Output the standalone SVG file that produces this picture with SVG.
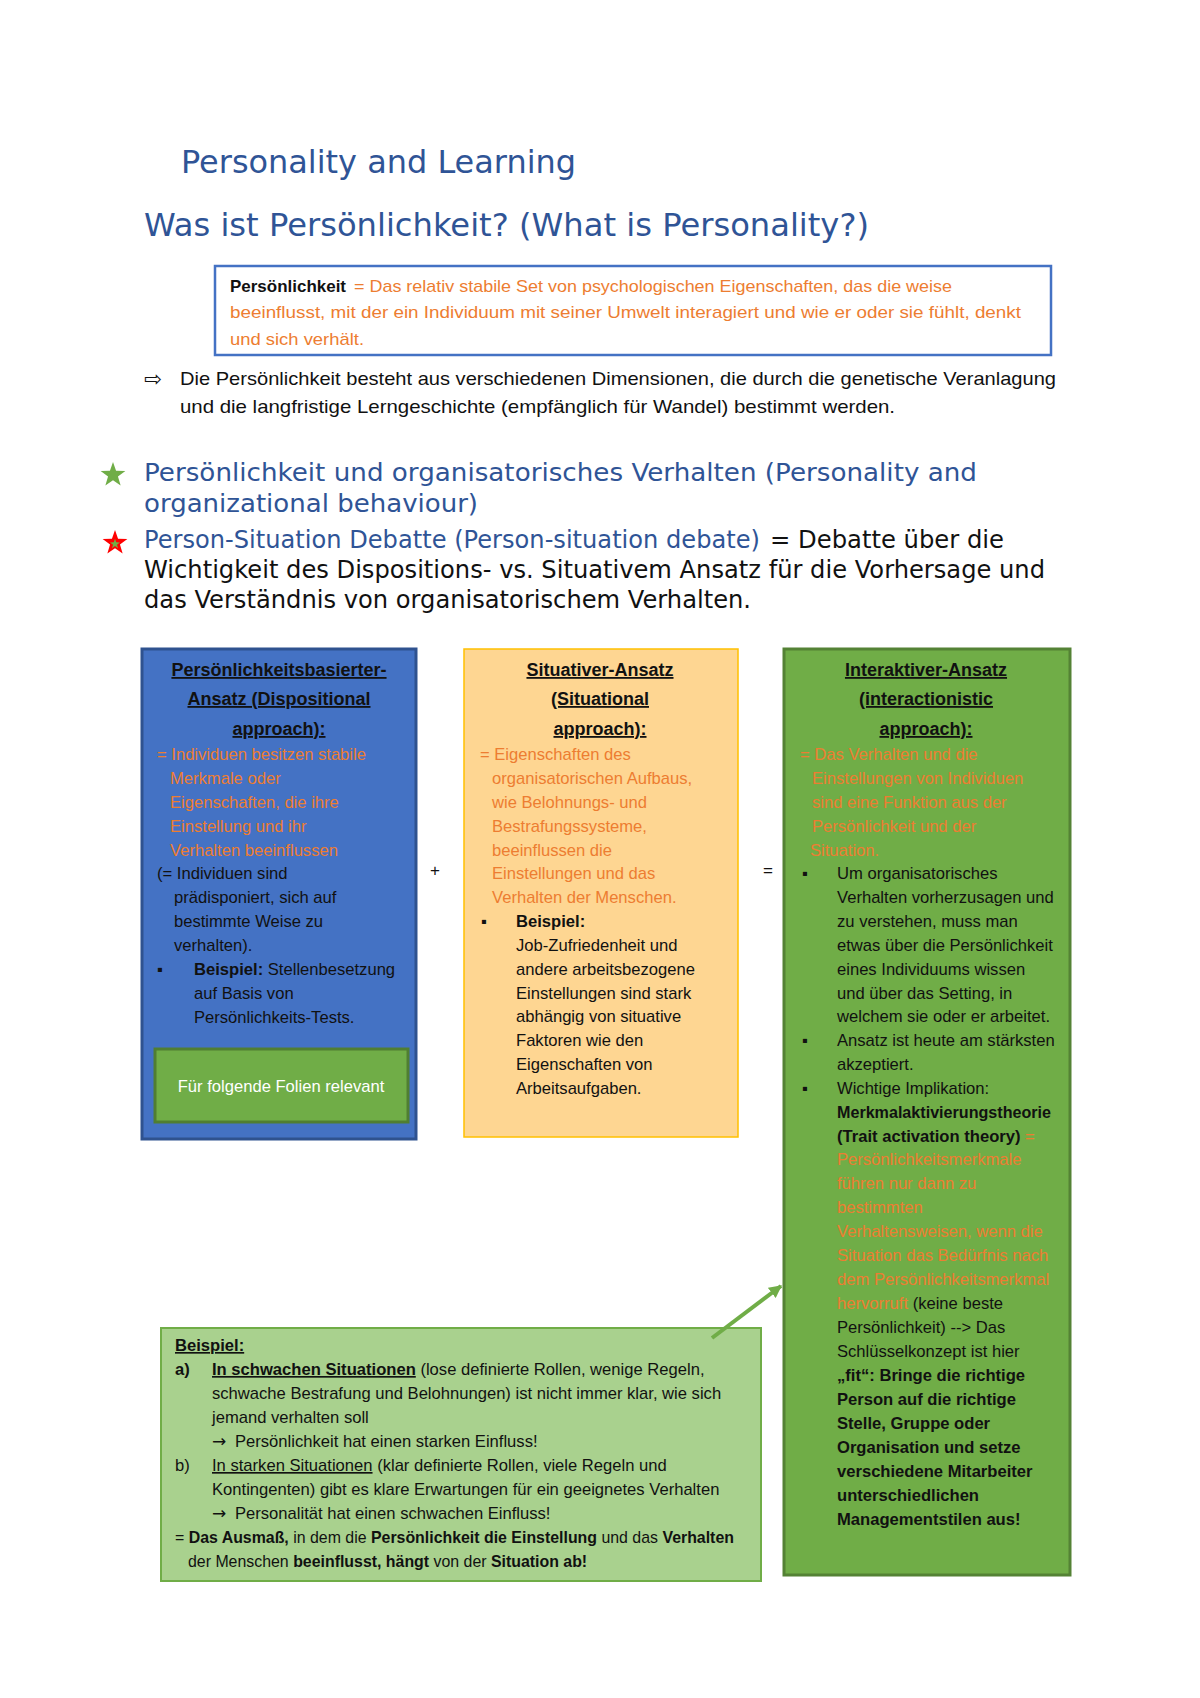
<svg xmlns="http://www.w3.org/2000/svg" xmlns:xlink="http://www.w3.org/1999/xlink" width="1200" height="1698" viewBox="0 0 1200 1698">
<style>
  .dv { font-family: "DejaVu Sans", Verdana, sans-serif; }
  .ls { font-family: "Liberation Sans", Arial, sans-serif; }
  .blue { fill: #2F5496; }
  .or { fill: #ED7D31; }
  .bk { fill: #111111; }
  .wh { fill: #FFFFFF; }
  .t { font-family: "Liberation Sans", Arial, sans-serif; font-size: 16.6px; }
  .sm { font-size: 15.9px; }
  .hd { font-family: "Liberation Sans", Arial, sans-serif; font-size: 18px; font-weight: bold; text-decoration: underline; fill: #111111; }
  .bold { font-weight: bold; }
  .ul { text-decoration: underline; }
  .ar { font-family: "DejaVu Sans", sans-serif; font-size: 17px; }
</style>
<defs>
  <path id="star" d="M0,-13 L3.06,-4.21 L12.36,-4.02 L4.95,1.61 L7.64,10.52 L0,5.2 L-7.64,10.52 L-4.95,1.61 L-12.36,-4.02 L-3.06,-4.21 Z"/>
  <marker id="arr" viewBox="0 0 10 10" refX="9" refY="5" markerWidth="3.2" markerHeight="3.2" orient="auto" markerUnits="strokeWidth">
    <path d="M0,0 L10,5 L0,10 Z" fill="#70AD47"/>
  </marker>
</defs>
<rect width="1200" height="1698" fill="#FFFFFF"/>

<g id="titles">
  <text class="dv blue" x="181" y="173" font-size="32" textLength="395" lengthAdjust="spacingAndGlyphs">Personality and Learning</text>
  <text class="dv blue" x="144" y="236" font-size="32" textLength="725" lengthAdjust="spacingAndGlyphs">Was ist Persönlichkeit? (What is Personality?)</text>
</g>

<g id="definition">
  <rect x="215" y="266" width="836" height="89" fill="#FFFFFF" stroke="#4472C4" stroke-width="2.5"/>
  <text class="ls bk bold" x="230" y="292" font-size="17" textLength="116" lengthAdjust="spacingAndGlyphs">Persönlichkeit</text>
  <text class="ls or" x="354" y="292" font-size="17" textLength="598" lengthAdjust="spacingAndGlyphs">= Das relativ stabile Set von psychologischen Eigenschaften, das die weise</text>
  <text class="ls or" x="230" y="318" font-size="17" textLength="791" lengthAdjust="spacingAndGlyphs">beeinflusst, mit der ein Individuum mit seiner Umwelt interagiert und wie er oder sie fühlt, denkt</text>
  <text class="ls or" x="230" y="345" font-size="17" textLength="134" lengthAdjust="spacingAndGlyphs">und sich verhält.</text>
</g>

<g id="paragraph">
  <text class="dv bk" x="144" y="386" font-size="21">⇨</text>
  <text class="ls bk" x="180" y="385" font-size="18.5" textLength="876" lengthAdjust="spacingAndGlyphs">Die Persönlichkeit besteht aus verschiedenen Dimensionen, die durch die genetische Veranlagung</text>
  <text class="ls bk" x="180" y="413" font-size="18.5" textLength="715" lengthAdjust="spacingAndGlyphs">und die langfristige Lerngeschichte (empfänglich für Wandel) bestimmt werden.</text>
</g>

<g id="heading-ob">
  <use xlink:href="#star" href="#star" transform="translate(113,475)" fill="#70AD47"/>
  <text class="dv blue" x="144" y="481" font-size="25" textLength="833" lengthAdjust="spacingAndGlyphs">Persönlichkeit und organisatorisches Verhalten (Personality and</text>
  <text class="dv blue" x="144" y="512" font-size="25" textLength="334" lengthAdjust="spacingAndGlyphs">organizational behaviour)</text>
</g>

<g id="heading-debate">
  <use xlink:href="#star" href="#star" transform="translate(115,543)" fill="#FF0000"/>
  <use xlink:href="#star" href="#star" transform="translate(115,544) scale(0.4)" fill="#70AD47"/>
  <text class="dv blue" x="144" y="548" font-size="25" textLength="616" lengthAdjust="spacingAndGlyphs">Person-Situation Debatte (Person-situation debate)</text>
  <text class="dv bk" x="770" y="548" font-size="25" textLength="234" lengthAdjust="spacingAndGlyphs">= Debatte über die</text>
  <text class="dv bk" x="144" y="578" font-size="25" textLength="901" lengthAdjust="spacingAndGlyphs">Wichtigkeit des Dispositions- vs. Situativem Ansatz für die Vorhersage und</text>
  <text class="dv bk" x="144" y="608" font-size="25" textLength="607" lengthAdjust="spacingAndGlyphs">das Verständnis von organisatorischem Verhalten.</text>
</g>

<g id="dispositional">
  <rect x="142" y="649" width="274" height="490" fill="#4472C4" stroke="#2F528F" stroke-width="3"/>
  <text class="hd" x="279" y="676" text-anchor="middle">Persönlichkeitsbasierter-</text>
  <text class="hd" x="279" y="705" text-anchor="middle">Ansatz (Dispositional</text>
  <text class="hd" x="279" y="735" text-anchor="middle">approach):</text>
  <text class="t or" x="157" y="760">= Individuen besitzen stabile</text>
  <text class="t or" x="170" y="784">Merkmale oder</text>
  <text class="t or" x="170" y="808">Eigenschaften, die ihre</text>
  <text class="t or" x="170" y="832">Einstellung und ihr</text>
  <text class="t or" x="170" y="856">Verhalten beeinflussen</text>
  <text class="t bk" x="157" y="879">(= Individuen sind</text>
  <text class="t bk" x="174" y="903">prädisponiert, sich auf</text>
  <text class="t bk" x="174" y="927">bestimmte Weise zu</text>
  <text class="t bk" x="174" y="951">verhalten).</text>
  <text class="t bk" x="157" y="975">▪</text>
  <text class="t bk" x="194" y="975"><tspan class="bold">Beispiel:</tspan> Stellenbesetzung</text>
  <text class="t bk" x="194" y="999">auf Basis von</text>
  <text class="t bk" x="194" y="1023">Persönlichkeits-Tests.</text>
</g>

<g id="relevant">
  <rect x="155" y="1049" width="253" height="73" fill="#70AD47" stroke="#507E32" stroke-width="3"/>
  <text class="t wh" x="281" y="1092" text-anchor="middle">Für folgende Folien relevant</text>
</g>

<g id="plus">
  <text class="ls bk" x="435" y="876" font-size="17" text-anchor="middle">+</text>
</g>

<g id="situational">
  <rect x="464" y="649" width="274" height="488" fill="#FED692" stroke="#FFC000" stroke-width="1.5"/>
  <text class="hd" x="600" y="676" text-anchor="middle">Situativer-Ansatz</text>
  <text class="hd" x="600" y="705" text-anchor="middle">(Situational</text>
  <text class="hd" x="600" y="735" text-anchor="middle">approach):</text>
  <text class="t or" x="480" y="760">= Eigenschaften des</text>
  <text class="t or" x="492" y="784">organisatorischen Aufbaus,</text>
  <text class="t or" x="492" y="808">wie Belohnungs- und</text>
  <text class="t or" x="492" y="832">Bestrafungssysteme,</text>
  <text class="t or" x="492" y="856">beeinflussen die</text>
  <text class="t or" x="492" y="879">Einstellungen und das</text>
  <text class="t or" x="492" y="903">Verhalten der Menschen.</text>
  <text class="t bk" x="481" y="927">▪</text>
  <text class="t bk bold" x="516" y="927">Beispiel:</text>
  <text class="t bk" x="516" y="951">Job-Zufriedenheit und</text>
  <text class="t bk" x="516" y="975">andere arbeitsbezogene</text>
  <text class="t bk" x="516" y="999">Einstellungen sind stark</text>
  <text class="t bk" x="516" y="1022">abhängig von situative</text>
  <text class="t bk" x="516" y="1046">Faktoren wie den</text>
  <text class="t bk" x="516" y="1070">Eigenschaften von</text>
  <text class="t bk" x="516" y="1094">Arbeitsaufgaben.</text>
</g>

<g id="equals">
  <text class="ls bk" x="768" y="876" font-size="17" text-anchor="middle">=</text>
</g>

<g id="interactionist">
  <rect x="784" y="649" width="286" height="926" fill="#70AD47" stroke="#548235" stroke-width="3"/>
  <text class="hd" x="926" y="676" text-anchor="middle">Interaktiver-Ansatz</text>
  <text class="hd" x="926" y="705" text-anchor="middle">(interactionistic</text>
  <text class="hd" x="926" y="735" text-anchor="middle">approach):</text>
  <text class="t or" x="800" y="760">= Das Verhalten und die</text>
  <text class="t or" x="812" y="784">Einstellungen von Individuen</text>
  <text class="t or" x="812" y="808">sind eine Funktion aus der</text>
  <text class="t or" x="812" y="832">Persönlichkeit und der</text>
  <text class="t or" x="810" y="856">Situation.</text>
  <text class="t bk" x="802" y="879">▪</text>
  <text class="t bk" x="837" y="879">Um organisatorisches</text>
  <text class="t bk" x="837" y="903">Verhalten vorherzusagen und</text>
  <text class="t bk" x="837" y="927">zu verstehen, muss man</text>
  <text class="t bk" x="837" y="951">etwas über die Persönlichkeit</text>
  <text class="t bk" x="837" y="975">eines Individuums wissen</text>
  <text class="t bk" x="837" y="999">und über das Setting, in</text>
  <text class="t bk" x="837" y="1022">welchem sie oder er arbeitet.</text>
  <text class="t bk" x="802" y="1046">▪</text>
  <text class="t bk" x="837" y="1046">Ansatz ist heute am stärksten</text>
  <text class="t bk" x="837" y="1070">akzeptiert.</text>
  <text class="t bk" x="802" y="1094">▪</text>
  <text class="t bk" x="837" y="1094">Wichtige Implikation:</text>
  <text class="t bk bold" x="837" y="1118" textLength="214" lengthAdjust="spacingAndGlyphs">Merkmalaktivierungstheorie</text>
  <text class="t bk" x="837" y="1142"><tspan class="bold">(Trait activation theory)</tspan><tspan class="or"> =</tspan></text>
  <text class="t or" x="837" y="1165">Persönlichkeitsmerkmale</text>
  <text class="t or" x="837" y="1189">führen nur dann zu</text>
  <text class="t or" x="837" y="1213">bestimmten</text>
  <text class="t or" x="837" y="1237">Verhaltensweisen, wenn die</text>
  <text class="t or" x="837" y="1261">Situation das Bedürfnis nach</text>
  <text class="t or" x="837" y="1285">dem Persönlichkeitsmerkmal</text>
  <text class="t bk" x="837" y="1309"><tspan class="or">hervorruft</tspan> (keine beste</text>
  <text class="t bk" x="837" y="1333">Persönlichkeit) --&gt; Das</text>
  <text class="t bk" x="837" y="1357">Schlüsselkonzept ist hier</text>
  <text class="t bk bold" x="837" y="1381">„fit“: Bringe die richtige</text>
  <text class="t bk bold" x="837" y="1405">Person auf die richtige</text>
  <text class="t bk bold" x="837" y="1429">Stelle, Gruppe oder</text>
  <text class="t bk bold" x="837" y="1453">Organisation und setze</text>
  <text class="t bk bold" x="837" y="1477">verschiedene Mitarbeiter</text>
  <text class="t bk bold" x="837" y="1501">unterschiedlichen</text>
  <text class="t bk bold" x="837" y="1525">Managementstilen aus!</text>
</g>

<g id="example">
  <rect x="161" y="1328" width="600" height="253" fill="#A9D18E" stroke="#70AD47" stroke-width="2"/>
  <text class="t bk bold ul" x="175" y="1351">Beispiel:</text>
  <text class="t bk bold" x="175" y="1375">a)</text>
  <text class="t bk" x="212" y="1375"><tspan class="bold ul">In schwachen Situationen</tspan> (lose definierte Rollen, wenige Regeln,</text>
  <text class="t bk" x="212" y="1399">schwache Bestrafung und Belohnungen) ist nicht immer klar, wie sich</text>
  <text class="t bk" x="212" y="1423">jemand verhalten soll</text>
  <text class="ar bk" x="212" y="1447">→</text>
  <text class="t bk" x="235" y="1447">Persönlichkeit hat einen starken Einfluss!</text>
  <text class="t bk" x="175" y="1471">b)</text>
  <text class="t bk" x="212" y="1471"><tspan class="ul">In starken Situationen</tspan> (klar definierte Rollen, viele Regeln und</text>
  <text class="t bk" x="212" y="1495">Kontingenten) gibt es klare Erwartungen für ein geeignetes Verhalten</text>
  <text class="ar bk" x="212" y="1519">→</text>
  <text class="t bk" x="235" y="1519">Personalität hat einen schwachen Einfluss!</text>
  <text class="t sm bk" x="175" y="1543">= <tspan class="bold">Das Ausmaß,</tspan> in dem die <tspan class="bold">Persönlichkeit die Einstellung</tspan> und das <tspan class="bold">Verhalten</tspan></text>
  <text class="t sm bk" x="188" y="1567">der Menschen <tspan class="bold">beeinflusst, hängt</tspan> von der <tspan class="bold">Situation ab!</tspan></text>
</g>

<g id="connectors">
  <line x1="712" y1="1338" x2="781" y2="1286" stroke="#70AD47" stroke-width="4" marker-end="url(#arr)"/>
</g>
</svg>
